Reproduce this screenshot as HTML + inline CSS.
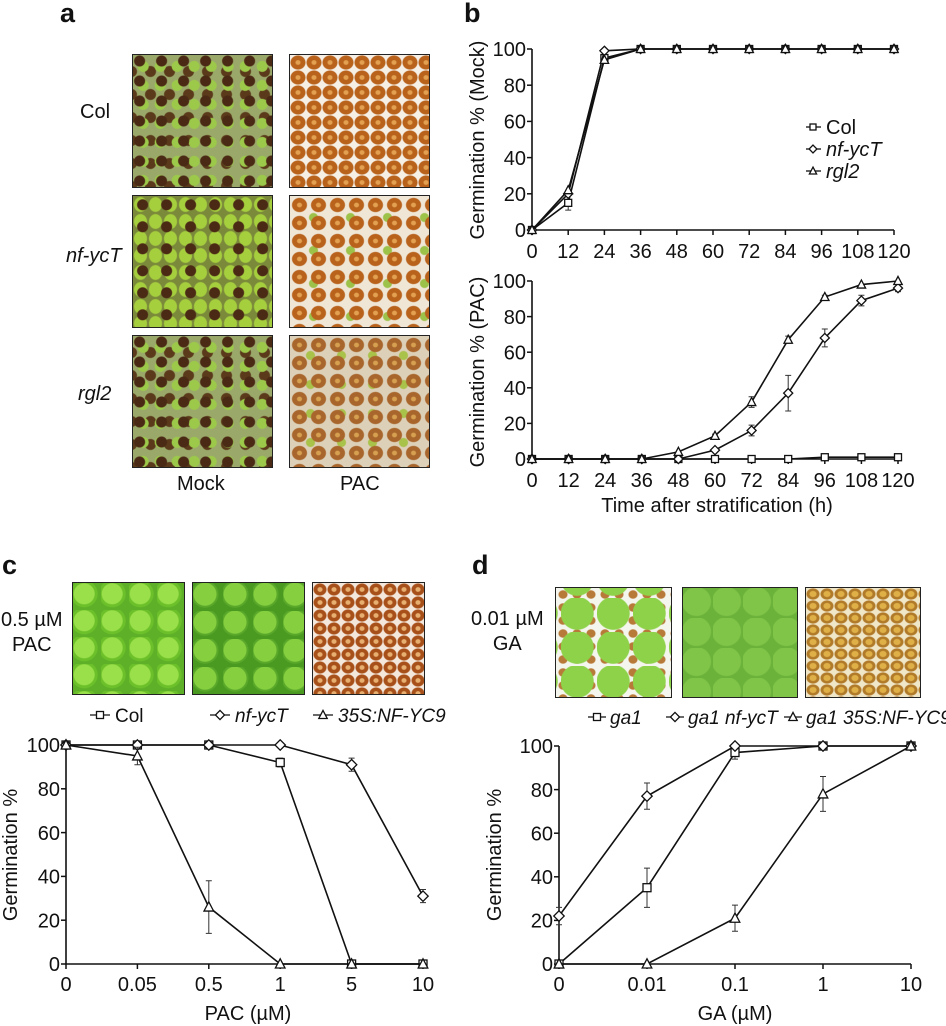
<!DOCTYPE html>
<html><head><meta charset="utf-8">
<style>
html,body{margin:0;padding:0;background:#fff;}
body{width:946px;height:1026px;position:relative;overflow:hidden;font-family:"Liberation Sans",Arial,sans-serif;color:#111;}
.photo{position:absolute;border:1.5px solid #222;box-sizing:border-box;}
.lbl{position:absolute;font-size:19px;white-space:nowrap;}
.pl{position:absolute;font-size:27px;font-weight:bold;}
.mockA{background:radial-gradient(circle at 30% 30%,#4a2a14 0 5px,transparent 6px) 0 0/22px 20px,radial-gradient(circle at 60% 60%,#9cc94a 0 5px,transparent 6px) 0 0/17px 19px,radial-gradient(circle at 50% 50%,#5a3a1a 0 5px,transparent 6px) 8px 5px/19px 23px,#9aa86a;}
.mockB{background:radial-gradient(circle at 40% 40%,#4a2a14 0 5px,transparent 6px) 0 0/24px 22px,radial-gradient(ellipse at 50% 50%,#a6cf3e 0 6px,transparent 7px) 0 0/15px 17px,#7a8a3a;}
.pacA{background:radial-gradient(ellipse at 50% 50%,#e2a050 0 2px,#b8621c 3px 7px,transparent 8px) 0 0/16px 15px,#f6efe6;}
.pacB{background:radial-gradient(ellipse at 50% 50%,#e2a050 0 2px,#b8621c 3px 7px,transparent 8px) 0 0/19px 18px,radial-gradient(circle,#9cc24a 0 4px,transparent 5px) 5px 5px/37px 33px,#efe6d6;}
.pacC{background:radial-gradient(ellipse at 50% 50%,#d6a050 0 2px,#a8662c 3px 7px,transparent 8px) 0 0/19px 18px,radial-gradient(circle,#a8c24a 0 4px,transparent 5px) 5px 5px/31px 29px,#ddd0b8;}
.green{background:radial-gradient(circle at 40% 40%,#9ae04a 0 10px,#6cc02a 11px 13px,transparent 14px) 0 0/28px 27px,#5db028;}
.green2{background:radial-gradient(circle at 40% 40%,#86d040 0 11px,#5aa82a 12px 13px,transparent 14px) 0 0/30px 28px,#4a9a22;}
.seedC{background:radial-gradient(ellipse at 50% 50%,#e8b070 0 2px,#a8501a 3px 6px,transparent 7px) 0 0/14px 13px,#f4e8dc;}
.gaA{background:radial-gradient(circle at 45% 45%,#8ed24a 0 16px,transparent 17px) 5px 10px/36px 34px,radial-gradient(ellipse,#b87a38 0 4px,transparent 5px) 0 0/14px 13px,#f4f6ee;}
.gaB{background:radial-gradient(circle at 45% 45%,#80c448 0 14px,transparent 15px) 0 0/30px 30px,#6ab23a;}
.gaC{background:radial-gradient(ellipse at 50% 50%,#e0b048 0 3px,#b07a28 4px 6px,transparent 7px) 0 0/14px 12px,#f0e6c8;}
</style></head>
<body>
<div class="pl" style="left:60px;top:-2px;">a</div>
<div class="pl" style="left:464px;top:-2px;">b</div>
<div class="pl" style="left:2px;top:550px;">c</div>
<div class="pl" style="left:472px;top:550px;">d</div>

<div class="photo mockA" style="left:132px;top:54px;width:141px;height:134px;"></div>
<div class="photo pacA" style="left:289px;top:54px;width:141px;height:134px;"></div>
<div class="photo mockB" style="left:132px;top:195px;width:141px;height:133px;"></div>
<div class="photo pacB" style="left:289px;top:195px;width:141px;height:133px;"></div>
<div class="photo mockA" style="left:132px;top:335px;width:141px;height:133px;"></div>
<div class="photo pacC" style="left:289px;top:335px;width:141px;height:133px;"></div>
<div class="lbl" style="left:80px;top:101px;font-size:20px;">Col</div>
<div class="lbl" style="left:66px;top:245px;font-style:italic;font-size:20px;">nf-ycT</div>
<div class="lbl" style="left:78px;top:383px;font-style:italic;font-size:20px;">rgl2</div>
<div class="lbl" style="left:177px;top:473px;font-size:20px;">Mock</div>
<div class="lbl" style="left:340px;top:473px;font-size:20px;">PAC</div>

<div class="photo green" style="left:72px;top:582px;width:113px;height:113px;"></div>
<div class="photo green2" style="left:192px;top:582px;width:113px;height:113px;"></div>
<div class="photo seedC" style="left:312px;top:582px;width:113px;height:113px;"></div>
<div class="lbl" style="left:1px;top:608px;line-height:25px;text-align:center;font-size:20px;">0.5 µM<br>PAC</div>
<div class="photo gaA" style="left:555px;top:587px;width:117px;height:111px;"></div>
<div class="photo gaB" style="left:682px;top:587px;width:116px;height:111px;"></div>
<div class="photo gaC" style="left:805px;top:587px;width:116px;height:111px;"></div>
<div class="lbl" style="left:471px;top:607px;line-height:25px;text-align:center;font-size:20px;">0.01 µM<br>GA</div>

<svg id="svg" width="946" height="1026" style="position:absolute;left:0;top:0;"></svg>

<script>
// ---- Panel b data ----
const bTimes = [0,12,24,36,48,60,72,84,96,108,120];
const bMockCol = [0,15,95,100,100,100,100,100,100,100,100];
const bMockNf = [0,20,99,100,100,100,100,100,100,100,100];
const bMockRgl = [0,22,94,100,100,100,100,100,100,100,100];
const bPacCol = [0,0,0,0,0,0,0,0,1,1,1];
const bPacNf = [0,0,0,0,0,5,16,37,68,89,96];
const bPacRgl = [0,0,0,0,4,13,32,67,91,98,100];
const yTicks = [0,20,40,60,80,100];
// ---- Panel c data ----
const cCats = ["0","0.05","0.5","1","5","10"];
const cCol = [100,100,100,92,0,0];
const cNf = [100,100,100,100,91,31];
const c35S = [100,95,26,0,0,0];
const cErr35S = [0,4,12,0,0,0];
// ---- Panel d data ----
const dCats = ["0","0.01","0.1","1","10"];
const dGa1 = [0,35,97,100,100];
const dNf = [22,77,100,100,100];
const d35S = [0,0,21,78,100];
const dErrGa1 = [0,9,3,0,0];
const dErr35S = [0,0,6,8,0];

const NS="http://www.w3.org/2000/svg";
const svg=document.getElementById('svg');
function el(tag,attrs,parent){const e=document.createElementNS(NS,tag);for(const k in attrs)e.setAttribute(k,attrs[k]);(parent||svg).appendChild(e);return e;}
function txt(x,y,s,size,anchor,name,extra){const t=el('text',Object.assign({x:x,y:y,'font-size':size,'text-anchor':anchor||'middle','font-family':'Liberation Sans, Arial, sans-serif',fill:'#111'},extra||{}));t.textContent=s;


return t;}
function marker(type,x,y,s,name){let m;
 if(type==='sq')m=el('rect',{x:x-s,y:y-s,width:2*s,height:2*s,fill:'#fff',stroke:'#111','stroke-width':1.3});
 else if(type==='di')m=el('polygon',{points:`${x},${y-s*1.3} ${x+s*1.3},${y} ${x},${y+s*1.3} ${x-s*1.3},${y}`,fill:'#fff',stroke:'#111','stroke-width':1.3});
 else m=el('polygon',{points:`${x},${y-s*1.3} ${x+s*1.2},${y+s} ${x-s*1.2},${y+s}`,fill:'#fff',stroke:'#111','stroke-width':1.3});
 
 
}
function series(xs,vals,sx,sy,type,s,name,errs){
 const pts=vals.map((v,i)=>sx(xs[i])+','+sy(v)).join(' ');
 const l=el('polyline',{points:pts,fill:'none',stroke:'#111','stroke-width':1.6});
 
 
 vals.forEach((v,i)=>{
  if(errs&&errs[i]>0){const e=el('path',{d:`M${sx(xs[i])},${sy(v-errs[i])}V${sy(v+errs[i])}M${sx(xs[i])-3},${sy(v-errs[i])}h6M${sx(xs[i])-3},${sy(v+errs[i])}h6`,stroke:'#333','stroke-width':1,fill:'none'});
   
   }
  marker(type,sx(xs[i]),sy(v),s,name+'-point');});
}
function axes(x0,x1,y0,y1,sy,xt,sx,fs,lblY,prefix){
 const a=el('path',{d:`M${x0},${y1}V${y0}H${x1}`,stroke:'#111','stroke-width':1.6,fill:'none'});
 
 
 yTicks.forEach(v=>{el('line',{x1:x0-5,x2:x0,y1:sy(v),y2:sy(v),stroke:'#111','stroke-width':1.5});
  txt(x0-6,sy(v)+fs*0.36,String(v),fs,'end',prefix+'-y-tick-label');});
 xt.forEach((t,i)=>{el('line',{x1:sx(i),x2:sx(i),y1:y0,y2:y0+5,stroke:'#111','stroke-width':1.5});
  txt(sx(i),lblY,t,fs,'middle',prefix+'-x-tick-label');});
}

// Panel b top
const bx=t=>532+(894-532)*t/120;
const byT=v=>230-(230-49)*v/100;
axes(532,894,230,49,byT,bTimes.map(String),i=>bx(bTimes[i]),20,258,'b-mock');
series(bTimes,bMockCol,bx,byT,'sq',3.5,'b-mock-col',[0,4,0,0,0,0,0,0,0,0,0]);
series(bTimes,bMockNf,bx,byT,'di',3.5,'b-mock-nfyct');
series(bTimes,bMockRgl,bx,byT,'tr',3.5,'b-mock-rgl2');
txt(0,0,'Germination % (Mock)',20,'middle','b-mock-y-title',{transform:'translate(484,140) rotate(-90)'});
// legend b
[['sq','Col',127,'normal'],['di','nf-ycT',149,'italic'],['tr','rgl2',171,'italic']].forEach(([t,s,y,st])=>{
 el('line',{x1:806,x2:821,y1:y,y2:y,stroke:'#111','stroke-width':1.3});marker(t,813,y,3,'b-legend-marker');
 txt(826,y+7,s,20,'start','b-legend-entry',{'font-style':st});});
// Panel b bottom
const bx2=t=>532+(898-532)*t/120;
const byB=v=>459-(459-281)*v/100;
axes(532,898,459,281,byB,bTimes.map(String),i=>bx2(bTimes[i]),20,487,'b-pac');
series(bTimes,bPacCol,bx2,byB,'sq',3.5,'b-pac-col');
series(bTimes,bPacNf,bx2,byB,'di',3.5,'b-pac-nfyct',[0,0,0,0,0,1,3,10,5,3,2]);
series(bTimes,bPacRgl,bx2,byB,'tr',3.5,'b-pac-rgl2',[0,0,0,0,0,1,3,2,1,0,0]);
txt(0,0,'Germination % (PAC)',20,'middle','b-pac-y-title',{transform:'translate(484,372) rotate(-90)'});
txt(717,512,'Time after stratification (h)',20,'middle','b-x-title');

// Panel c
const cx=i=>66+(423-66)*i/5;
const cy=v=>964-(964-745)*v/100;
axes(66,423,964,745,cy,cCats,cx,20,991,'c');
const cIdx=cCats.map((_,i)=>i);
series(cIdx,cCol,cx,cy,'sq',4,'c-col',[0,0,0,2,0,0]);
series(cIdx,cNf,cx,cy,'di',4,'c-nfyct',[0,0,0,0,3,3]);
series(cIdx,c35S,cx,cy,'tr',4,'c-35s',cErr35S);
txt(0,0,'Germination %',20,'middle','c-y-title',{transform:'translate(17,855) rotate(-90)'});
txt(248,1020,'PAC (µM)',20,'middle','c-x-title');
[['sq','Col',100,'normal'],['di','nf-ycT',220,'italic'],['tr','35S:NF-YC9',323,'italic']].forEach(([t,s,x,st])=>{
 el('line',{x1:x-10,x2:x+10,y1:715,y2:715,stroke:'#111','stroke-width':1.3});marker(t,x,715,3.5,'c-legend-marker');
 txt(x+15,722,s,19,'start','c-legend-entry',{'font-style':st});});

// Panel d
const dx=i=>559+(911-559)*i/4;
const dy=v=>964-(964-746)*v/100;
axes(559,911,964,746,dy,dCats,dx,20,991,'d');
const dIdx=dCats.map((_,i)=>i);
series(dIdx,dGa1,dx,dy,'sq',4,'d-ga1',dErrGa1);
series(dIdx,dNf,dx,dy,'di',4,'d-ga1-nfyct',[4,6,0,0,0]);
series(dIdx,d35S,dx,dy,'tr',4,'d-ga1-35s',dErr35S);
txt(0,0,'Germination %',20,'middle','d-y-title',{transform:'translate(501,855) rotate(-90)'});
txt(735,1020,'GA (µM)',20,'middle','d-x-title');
[['sq','ga1',597,'italic'],['di','ga1 nf-ycT',675,'italic'],['tr','ga1 35S:NF-YC9',793,'italic']].forEach(([t,s,x,st])=>{
 el('line',{x1:x-9,x2:x+9,y1:717,y2:717,stroke:'#111','stroke-width':1.3});marker(t,x,717,3.5,'d-legend-marker');
 txt(x+13,724,s,19,'start','d-legend-entry',{'font-style':st});});
</script>
</body></html>
